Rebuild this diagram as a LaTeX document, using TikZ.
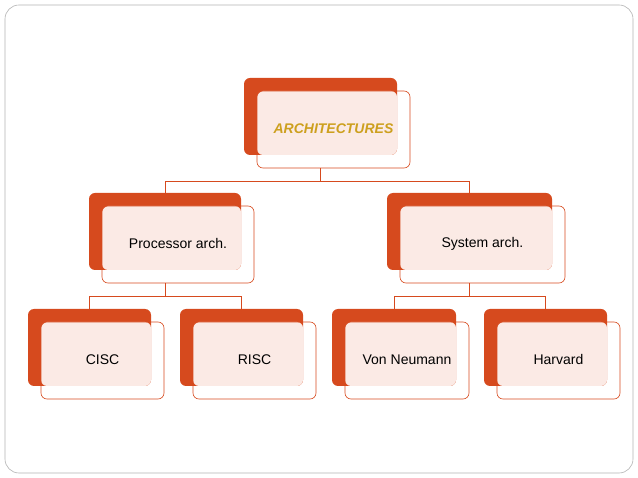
\documentclass[tikz,border=0pt]{standalone}
\usepackage{fontspec}
\setmainfont{Liberation Sans}
\definecolor{org}{HTML}{D64A1E}
\definecolor{pinkf}{HTML}{FBEAE5}
\definecolor{gold}{HTML}{CDA01E}
\begin{document}
\begin{tikzpicture}[x=1pt,y=-1pt,
 back/.style={draw=none,fill=org,rounded corners=6pt,inner sep=0pt},
 pink/.style={draw=none,fill=pinkf,rounded corners=6pt,inner sep=0pt},
 front/.style={draw=org,line width=0.6pt,fill=none,rounded corners=6pt,inner sep=0pt},
 lbl/.style={font=\fontsize{14}{16}\selectfont,text=black},
 con/.style={draw=org,line width=0.6pt}]
\path[use as bounding box] (0,0) rectangle (638,478);
\draw[gray!60,rounded corners=14pt,line width=0.6pt] (5,5) rectangle (633,473);
\newcommand\mybox[6]{%
 \node[back,minimum width=#4-#2,minimum height=#5-#3] (#1) at ({(#2+#4)/2},{(#3+#5)/2}) {};
 \node[pink,minimum width=#4-#2-13,minimum height=#5-#3-13] (#1p) at ({(#2+#4+13)/2},{(#3+#5+13)/2}) {};
 \node[front,minimum width=#4-#2,minimum height=#5-#3] (#1f) at ({(#2+#4)/2+13},{(#3+#5)/2+13}) {};
 \node[lbl] (#1t) at ({(#2+#4)/2+13},{(#3+#5)/2+12}) {#6};}
\mybox{top}{244}{78}{397}{155}{\textcolor{gold}{\bfseries\itshape ARCHITECTURES}}
\mybox{proc}{89}{193}{241}{270}{Processor arch.}
\mybox{sys}{387}{193}{552}{270}{System arch.}
\mybox{cisc}{28}{309}{151}{386}{CISC}
\mybox{risc}{180}{309}{303}{386}{RISC}
\mybox{von}{332}{309}{456}{386}{Von Neumann}
\mybox{harv}{484}{309}{607}{386}{Harvard}
\draw[con] (topf.south -| top.south) |- (proc.north |- 0,181) -- (proc.north);
\draw[con] (topf.south -| top.south) |- (sys.north |- 0,181) -- (sys.north);
\draw[con] (procf.south -| proc.south) |- (cisc.north |- 0,296) -- (cisc.north);
\draw[con] (procf.south -| proc.south) |- (risc.north |- 0,296) -- (risc.north);
\draw[con] (sysf.south -| sys.south) |- (von.north |- 0,296) -- (von.north);
\draw[con] (sysf.south -| sys.south) |- (harv.north |- 0,296) -- (harv.north);
\end{tikzpicture}
\end{document}
